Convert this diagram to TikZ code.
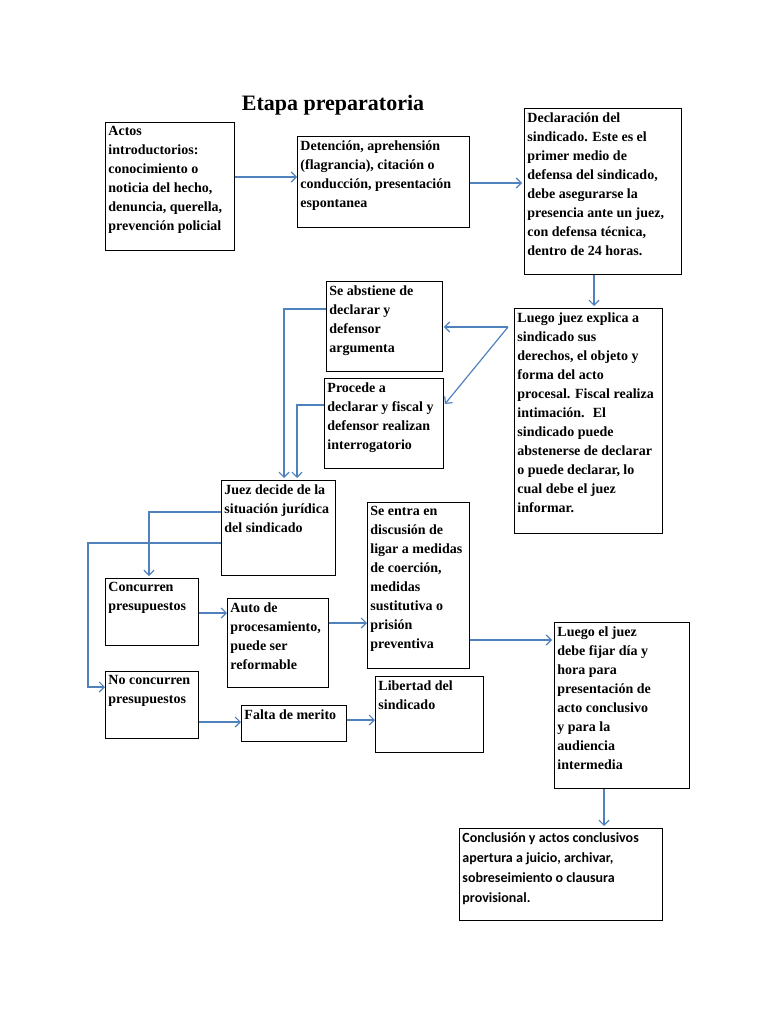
\documentclass[tikz,border=0pt]{standalone}
\usepackage{fontspec}
\setmainfont{Liberation Serif}
\newfontfamily\calib{Carlito}
\usetikzlibrary{arrows.meta,calc}
\definecolor{arrowblue}{RGB}{79,129,189}
\newcommand{\bt}[3]{\parbox[t][\dimexpr#2pt-8pt\relax][t]{\dimexpr#1pt-6pt\relax}{\raggedright #3}}
\tikzset{
  box/.style={draw, line width=0.9pt, inner ysep=4pt, inner xsep=3pt, anchor=north west,
    font=\bfseries\fontsize{14}{19}\selectfont},
  boxc/.style={box, font=\calib\bfseries\fontsize{14}{20}\selectfont},
  arr/.style={draw=arrowblue, line width=1.2pt, -{Straight Barb[length=5pt,width=10pt]}},
  ttl/.style={font=\bfseries\fontsize{22}{26}\selectfont, inner sep=0pt}
}
\begin{document}
\begin{tikzpicture}[x=1pt,y=-1pt]
\useasboundingbox (0,0) rectangle (768,1024);
\node[ttl] (title) at (333,105) {Etapa preparatoria};
\node[box] (n1) at (105,122) {\bt{129}{128}{Actos\\introductorios:\\conocimiento o\\noticia del hecho,\\denuncia, querella,\\prevención policial}};
\node[box] (n2) at (297,136) {\bt{172}{91}{Detención, aprehensión\\(flagrancia), citación o\\conducción, presentación\\espontanea}};
\node[box] (n3) at (524,108) {\bt{157}{166}{Declaración del\\sindicado. Este es el\\primer medio de\\defensa del sindicado,\\debe asegurarse la\\presencia ante un juez,\\con defensa técnica,\\dentro de 24 horas.}};
\node[box] (n4) at (514,308) {\bt{148}{225}{Luego juez explica a\\sindicado sus\\derechos, el objeto y\\forma del acto\\procesal. Fiscal realiza\\intimación. \ El\\sindicado puede\\abstenerse de declarar\\o puede declarar, lo\\cual debe el juez\\informar.}};
\node[box] (n5) at (326,281) {\bt{116}{90}{Se abstiene de\\declarar y\\defensor\\argumenta}};
\node[box] (n6) at (324,378) {\bt{119}{90}{Procede a\\declarar y fiscal y\\defensor realizan\\interrogatorio}};
\node[box] (n7) at (221,480) {\bt{114}{95}{Juez decide de la\\situación jurídica\\del sindicado}};
\node[box] (n8) at (367,502) {\bt{102}{166}{Se entra en\\discusión de\\ligar a medidas\\de coerción,\\medidas\\sustitutiva o\\prisión\\preventiva}};
\node[box] (n9) at (105,578) {\bt{93}{67}{Concurren\\presupuestos}};
\node[box] (n10) at (227,598) {\bt{101}{89}{Auto de\\procesamiento,\\puede ser\\reformable}};
\node[box] (n11) at (105,671) {\bt{93}{67}{No concurren\\presupuestos}};
\node[box] (n12) at (241,705) {\bt{105}{36}{Falta de merito}};
\node[box] (n13) at (375,676) {\bt{108}{76}{Libertad del\\sindicado}};
\node[box] (n14) at (554,622) {\bt{135}{166}{Luego el juez\\debe fijar día y\\hora para\\presentación de\\acto conclusivo\\y para la\\audiencia\\intermedia}};
\node[boxc] (n15) at (459,828) {\bt{203}{92}{Conclusión y actos conclusivos\\apertura a juicio, archivar,\\sobreseimiento o clausura\\provisional.}};

\coordinate (s4) at (508,327);
\draw[arr] (n1.east |- 0,177) -- (n2.west |- 0,177);
\draw[arr] (n2.east |- 0,183) -- ([xshift=-2pt]n3.west |- 0,183);
\draw[arr] (n3.south -| 594,0) -- ([yshift=2pt]n4.north -| 594,0);
\draw[arr] (s4) -- ([xshift=1pt]n5.east |- s4);
\draw[arr] (s4) -- ([xshift=1pt]n6.east |- 0,404);
\draw[arr] (n5.west |- 0,309) -| ([yshift=2pt]n7.north -| 284,0);
\draw[arr] (n6.west |- 0,405) -| ([yshift=2pt]n7.north -| 297,0);
\draw[arr] (n7.west |- 0,512) -| ([yshift=2pt]n9.north -| 149,0);
\draw[arr] (n7.west |- 0,543) -| (88,687) -- (n11.west |- 0,687);
\draw[arr] (n9.east |- 0,613) -- (n10.west |- 0,613);
\draw[arr] (n10.east |- 0,623) -- (n8.west |- 0,623);
\draw[arr] (n11.east |- 0,722) -- (n12.west |- 0,722);
\draw[arr] (n12.east |- 0,720) -- (n13.west |- 0,720);
\draw[arr] (n8.east |- 0,640) -- ([xshift=-2pt]n14.west |- 0,640);
\draw[arr] (n14.south -| 604,0) -- ([yshift=2pt]n15.north -| 604,0);
\end{tikzpicture}
\end{document}
